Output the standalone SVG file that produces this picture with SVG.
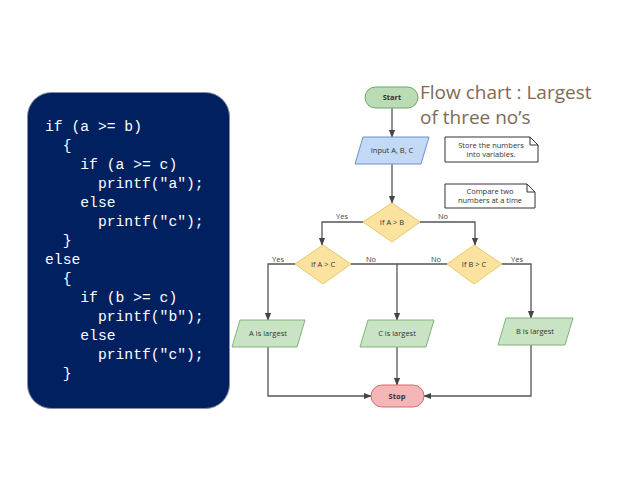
<svg xmlns="http://www.w3.org/2000/svg" width="638" height="493" viewBox="0 0 638 493">
<defs>
<marker id="ah" viewBox="0 0 10 10" refX="9" refY="5" markerWidth="6" markerHeight="6" orient="auto"><path d="M0,1 L10,5 L0,9 z" fill="#444"/></marker>
<style>
.code{font-family:"Liberation Mono",monospace;font-size:14.7px;fill:#fff;white-space:pre}
.t{font-family:"Open Sans","Liberation Sans",sans-serif;font-size:7.5px;fill:#333;text-anchor:middle}
.l{font-family:"Open Sans","Liberation Sans",sans-serif;font-size:7.5px;fill:#444;text-anchor:middle}
.c{fill:none;stroke:#555;stroke-width:1.3}
.ca{fill:none;stroke:#555;stroke-width:1.3;marker-end:url(#ah)}
.dia{fill:#fbe29f;stroke:#e8c86a;stroke-width:1}
.gr{fill:#c9e4c5;stroke:#7fb37a;stroke-width:1}
.note{fill:#fff;stroke:#333;stroke-width:1}
.title{font-family:"Open Sans","Liberation Sans",sans-serif;font-size:19px;fill:#7f6a55}
</style>
</defs>
<rect width="638" height="493" fill="#fff"/>
<g id="code">
<rect x="27.5" y="92.5" width="202" height="316" rx="24" fill="#002060" stroke="#8a8fa0" stroke-width="1"/>
<text class="code" x="45" y="131">if (a &gt;= b)</text>
<text class="code" x="45" y="150">  {</text>
<text class="code" x="45" y="169">    if (a &gt;= c)</text>
<text class="code" x="45" y="188">      printf("a");</text>
<text class="code" x="45" y="207">    else</text>
<text class="code" x="45" y="226">      printf("c");</text>
<text class="code" x="45" y="245">  }</text>
<text class="code" x="45" y="264">else</text>
<text class="code" x="45" y="283">  {</text>
<text class="code" x="45" y="302">    if (b &gt;= c)</text>
<text class="code" x="45" y="321">      printf("b");</text>
<text class="code" x="45" y="340">    else</text>
<text class="code" x="45" y="359">      printf("c");</text>
<text class="code" x="45" y="378">  }</text>
</g>
<g id="title">
<text class="title" x="420" y="99">Flow chart : Largest</text>
<text class="title" x="420" y="124">of three no’s</text>
</g>
<g id="connectors">
<path class="ca" d="M392,108 V137"/>
<path class="ca" d="M392,164 V203"/>
<path class="ca" d="M363,222 H322 V245"/>
<path class="ca" d="M420,222 H475 V245"/>
<path class="ca" d="M295,264 H268 V320"/>
<path class="ca" d="M351,264 H397 V320"/>
<path class="c" d="M447,264 H397"/>
<path class="ca" d="M502,264 H531 V318"/>
<path class="ca" d="M397,347 V385"/>
<path class="ca" d="M268,347 V396 H371"/>
<path class="ca" d="M531,345 V396 H424"/>
<text class="l" x="342" y="219">Yes</text>
<text class="l" x="443" y="219">No</text>
<text class="l" x="278" y="262">Yes</text>
<text class="l" x="371" y="262">No</text>
<text class="l" x="436" y="262">No</text>
<text class="l" x="517" y="262">Yes</text>
</g>
<g id="start"><rect x="365" y="87" width="53" height="21" rx="10.5" fill="#b9dcb5" stroke="#6da868"/><text class="t" x="392" y="100" font-weight="bold">Start</text></g>
<g id="input"><polygon points="363,137 429,137 421,164 355,164" fill="#c3d9f5" stroke="#6b93c9"/><text class="t" x="392" y="153">Input A, B, C</text></g>
<g id="note1"><polygon class="note" points="445,137 530,137 538,145 538,162 445,162"/><path d="M530,137 V145 H538" fill="none" stroke="#333"/><text class="t" x="491" y="148">Store the numbers</text><text class="t" x="491" y="157">into variables.</text></g>
<g id="note2"><polygon class="note" points="445,184 527,184 535,192 535,208 445,208"/><path d="M527,184 V192 H535" fill="none" stroke="#333"/><text class="t" x="490" y="194">Compare two</text><text class="t" x="490" y="203">numbers at a time</text></g>
<g id="ab"><polygon class="dia" points="392,203 420,222 392,242 363,222"/><text class="t" x="392" y="225">If A &gt; B</text></g>
<g id="ac"><polygon class="dia" points="323,245 351,264 323,284 295,264"/><text class="t" x="323" y="267">If A &gt; C</text></g>
<g id="bc"><polygon class="dia" points="474,245 502,264 474,284 447,264"/><text class="t" x="474" y="267">If B &gt; C</text></g>
<g id="alarge"><polygon class="gr" points="240,320 305,320 297,347 232,347"/><text class="t" x="268" y="336">A is largest</text></g>
<g id="clarge"><polygon class="gr" points="368,320 434,320 426,347 360,347"/><text class="t" x="397" y="336">C is largest</text></g>
<g id="blarge"><polygon class="gr" points="506,318 573,318 565,345 498,345"/><text class="t" x="535" y="334">B is largest</text></g>
<g id="stop"><rect x="371" y="385" width="53" height="22" rx="11" fill="#f4b6b6" stroke="#d96b6b"/><text class="t" x="397" y="399" font-weight="bold">Stop</text></g>
</svg>
